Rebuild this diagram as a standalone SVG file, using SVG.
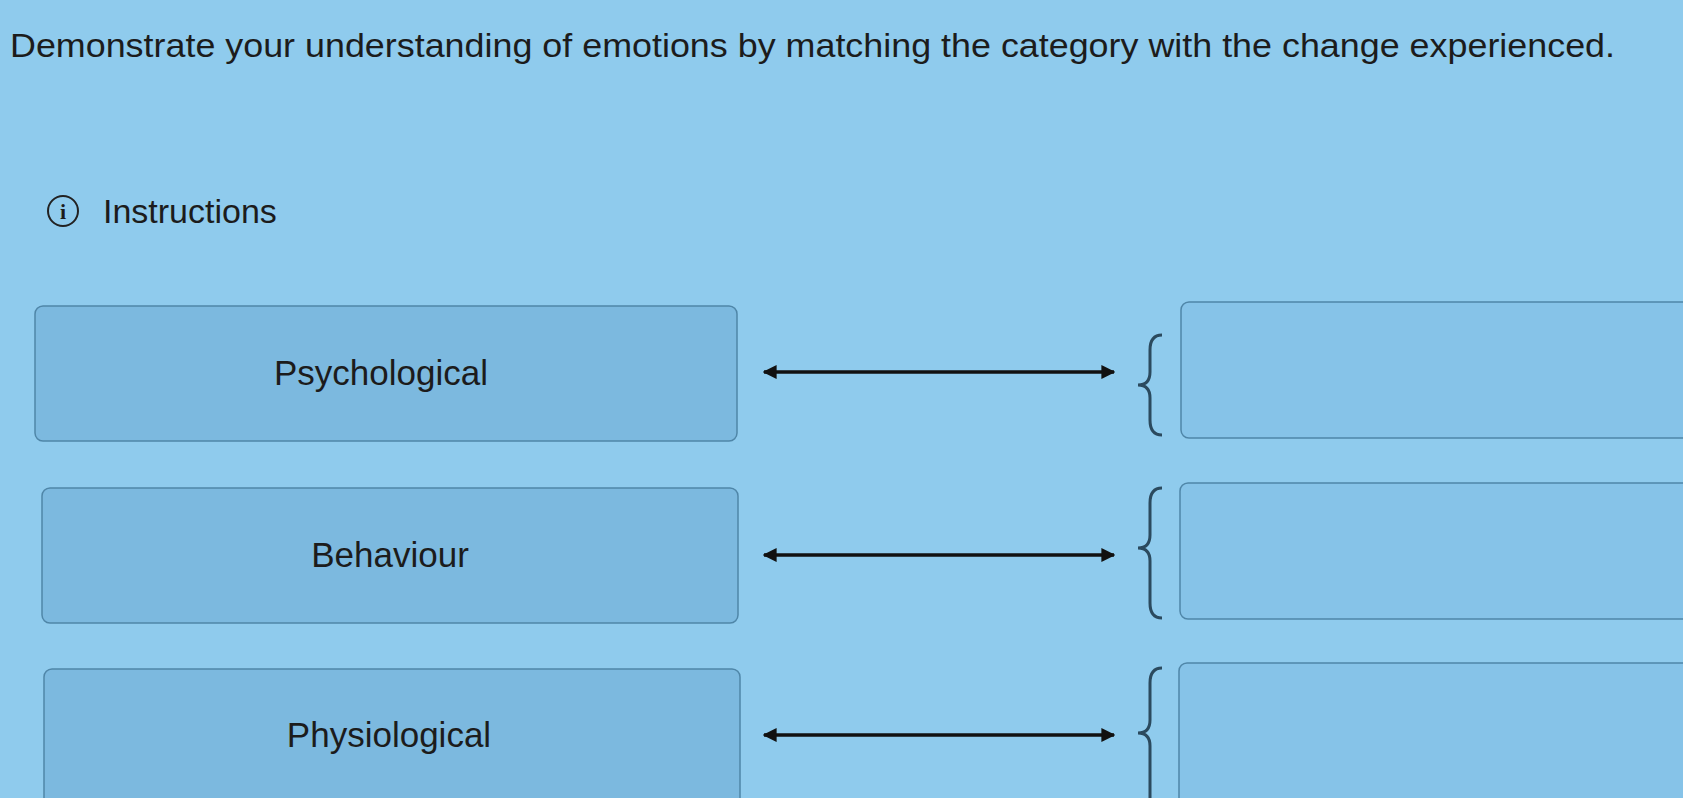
<svg xmlns="http://www.w3.org/2000/svg" width="1683" height="798" viewBox="0 0 1683 798">
<style>
.t{font-family:"Liberation Sans",Arial,sans-serif;fill:#1c1c1c}
.box{fill:#7cb9df;stroke:#4f86a8;stroke-width:1.5}
.rbox{fill:#86c3e8;stroke:#4f86a8;stroke-width:1.5}
.ln{stroke:#111;stroke-width:3.5}
.br{fill:none;stroke:#2b4a5e;stroke-width:3}
</style>
<defs>
<marker id="a" viewBox="0 0 10 10" refX="9" refY="5" markerWidth="4" markerHeight="4" orient="auto-start-reverse"><path d="M0,0 L10,5 L0,10 z" fill="#111"/></marker>
</defs>
<rect width="1683" height="798" fill="#8fcbed"/>
<text class="t" x="10" y="57" font-size="33" textLength="1605" lengthAdjust="spacingAndGlyphs">Demonstrate your understanding of emotions by matching the category with the change experienced.</text>
<g id="instructions">
<circle cx="63" cy="211" r="15" fill="none" stroke="#222" stroke-width="2"/>
<text x="63" y="219" font-size="22" text-anchor="middle" font-family="Liberation Serif,serif" font-weight="bold" fill="#1c1c1c">i</text>
<text class="t" x="103" y="223" font-size="34">Instructions</text>
</g>
<g id="n1"><rect class="box" x="35" y="306" width="702" height="135" rx="8"/><text class="t" x="381" y="385" font-size="35" text-anchor="middle">Psychological</text></g>
<g id="n2"><rect class="box" x="42" y="488" width="696" height="135" rx="8"/><text class="t" x="390" y="567" font-size="35" text-anchor="middle">Behaviour</text></g>
<g id="n3"><rect class="box" x="44" y="669" width="696" height="140" rx="8"/><text class="t" x="389" y="747" font-size="35" text-anchor="middle">Physiological</text></g>
<g id="r1"><rect class="rbox" x="1181" y="302" width="520" height="136" rx="8"/><path class="br" d="M1162,335 Q1150,335 1150,350 L1150,372 Q1150,385 1138,385 Q1150,385 1150,398 L1150,420 Q1150,435 1162,435"/></g>
<g id="r2"><rect class="rbox" x="1180" y="483" width="520" height="136" rx="8"/><path class="br" d="M1162,488 Q1150,488 1150,503 L1150,535 Q1150,548 1138,548 Q1150,548 1150,561 L1150,603 Q1150,618 1162,618"/></g>
<g id="r3"><rect class="rbox" x="1179" y="663" width="520" height="150" rx="8"/><path class="br" d="M1162,668 Q1150,668 1150,683 L1150,720 Q1150,733 1138,733 Q1150,733 1150,746 L1150,798"/></g>
<g id="connectors">
<line class="ln" x1="764" y1="372" x2="1114" y2="372" marker-start="url(#a)" marker-end="url(#a)"/>
<line class="ln" x1="764" y1="555" x2="1114" y2="555" marker-start="url(#a)" marker-end="url(#a)"/>
<line class="ln" x1="764" y1="735" x2="1114" y2="735" marker-start="url(#a)" marker-end="url(#a)"/>
</g>
</svg>
